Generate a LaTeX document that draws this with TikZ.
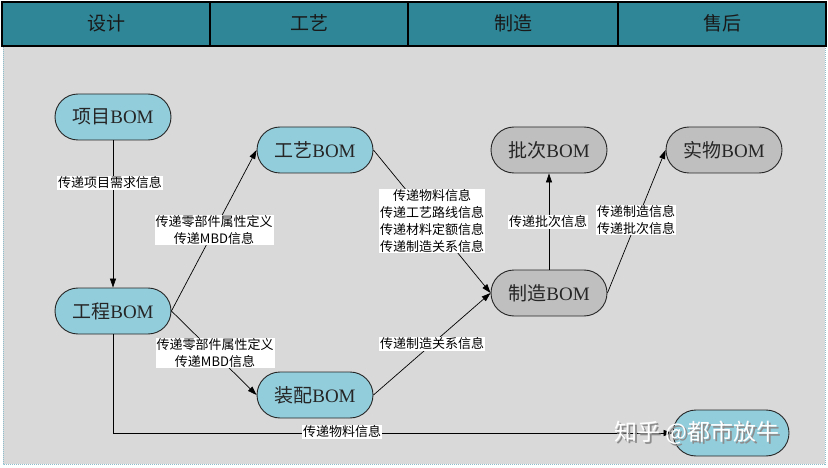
\documentclass[tikz,border=0pt]{standalone}
\usepackage{fontspec}
\setmainfont{Liberation Serif}
\newfontfamily\cjk{Noto Sans CJK SC}
\usetikzlibrary{arrows.meta}
\definecolor{hdr}{RGB}{47,134,150}
\definecolor{bgg}{RGB}{217,217,217}
\definecolor{nblue}{RGB}{146,205,220}
\definecolor{ngray}{RGB}{191,191,191}
\definecolor{dotb}{RGB}{140,190,205}
\newcommand\zh[1]{{\cjk #1}}
\tikzset{
  hdrcell/.style={draw=black, line width=1.8pt, fill=hdr},
  hdrtext/.style={font=\cjk\fontsize{19}{22}\selectfont, text=black!90},
  pill/.style={draw=black!85, line width=0.9pt, rectangle, rounded corners=23pt,
    minimum width=116pt, minimum height=46pt, inner sep=0pt,
    font=\fontsize{19}{22}\selectfont, text=black!85},
  bluepill/.style={pill, fill=nblue},
  graypill/.style={pill, fill=ngray},
  lbl/.style={fill=white, inner sep=1pt, align=center,
    font=\cjk\fontsize{13}{16.8}\selectfont},
  conn/.style={draw=black, line width=0.7pt},
  arr/.style={conn, -{Triangle[length=9pt,width=6pt]}},
  wm/.style={font=\cjk\fontsize{23}{25}\selectfont}
}
\begin{document}
\begin{tikzpicture}[x=1pt,y=-1pt]
\useasboundingbox (0,0) rectangle (828,468);
\fill[white] (0,0) rectangle (828,468);
% background panel
\fill[bgg] (3,47) rectangle (825,464);
\draw[dotb, densely dotted, line width=1pt] (3,47) -- (3,464) -- (825,464) -- (825,47);
% header
\draw[hdrcell] (2,2) rectangle (210,46);
\draw[hdrcell] (210,2) rectangle (408,46);
\draw[hdrcell] (408,2) rectangle (618,46);
\draw[hdrcell] (618,2) rectangle (826,46);
\node[hdrtext] (h1) at (106,23) {设计};
\node[hdrtext] (h2) at (309,23) {工艺};
\node[hdrtext] (h3) at (513,23) {制造};
\node[hdrtext] (h4) at (722,23) {售后};
% nodes
\node[bluepill] (xm) at (113,117) {\zh{项目}BOM};
\node[bluepill] (gc) at (113,311) {\zh{工程}BOM};
\node[bluepill] (gy) at (315,150) {\zh{工艺}BOM};
\node[bluepill] (zp) at (315,395) {\zh{装配}BOM};
\node[graypill] (pc) at (549,150) {\zh{批次}BOM};
\node[graypill] (zz) at (549,293) {\zh{制造}BOM};
\node[graypill] (sw) at (724,150) {\zh{实物}BOM};
\node[bluepill] (sh) at (731,433) {};
% connectors
\draw[arr] (xm.south) -- (gc.north);
\draw[arr] (gc.east) -- (gy.west);
\draw[arr] (gc.east) -- (zp.west);
\draw[arr] (gy.east) -- (zz.west);
\draw[arr] (zp.east) -- (zz.west);
\draw[arr] (zz.north) -- (pc.south);
\draw[arr] (zz.east) -- (sw.west);
\coordinate (bend) at (113,433);
\draw[arr] (gc.south) -- (bend) -- (sh.west);
% labels
\node[lbl] (l1) at (110,183) {传递项目需求信息};
\node[lbl] (l2) at (214,230) {传递零部件属性定义\\传递MBD信息};
\node[lbl] (l3) at (215,353) {传递零部件属性定义\\传递MBD信息};
\node[lbl] (l4) at (432,221) {传递物料信息\\传递工艺路线信息\\传递材料定额信息\\传递制造关系信息};
\node[lbl] (l5) at (432,344) {传递制造关系信息};
\node[lbl] (l6) at (548,222) {传递批次信息};
\node[lbl] (l7) at (636,220) {传递制造信息\\传递批次信息};
\node[lbl] (l8) at (342,432) {传递物料信息};
% watermark (white text with drop shadow)
\node[wm, text=black!45] (wms) at (699,435) {知乎 @都市放牛};
\node[wm, text=white] (wmt) at (697,433) {知乎 @都市放牛};
\end{tikzpicture}
\end{document}
